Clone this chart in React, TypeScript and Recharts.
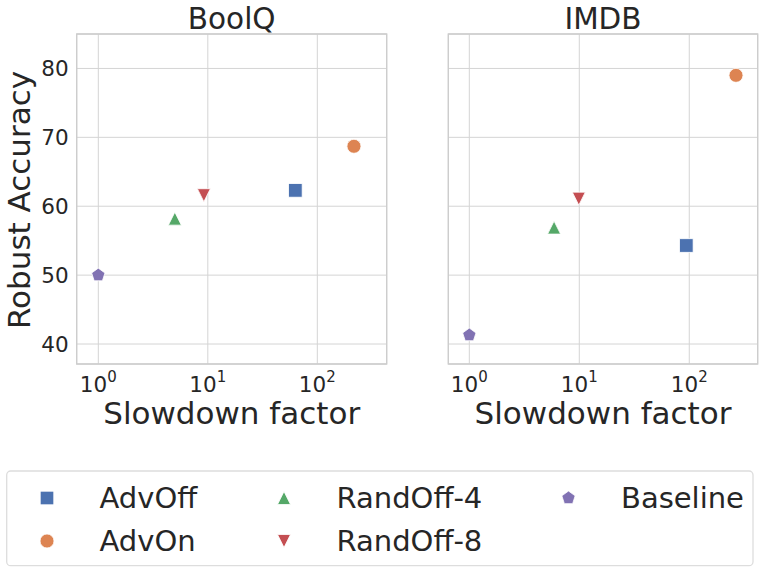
import React from "react";
import {
  ScatterChart,
  Scatter,
  XAxis,
  YAxis,
  CartesianGrid,
  ReferenceArea,
} from "recharts";

// values
const methods = ["AdvOff", "AdvOn", "RandOff-4", "RandOff-8", "Baseline"];
const boolqSlowdown = [63, 216, 5.0, 9.2, 1.0];
const boolqAccuracy = [62.3, 68.7, 58.2, 61.6, 50.0];
const imdbSlowdown = [94, 266, 5.9, 9.9, 1.0];
const imdbAccuracy = [54.3, 79.0, 56.9, 61.1, 41.3];

const xTicks = [1, 10, 100];
const yTicks = [40, 50, 60, 70, 80];

const COLORS: Record<string, string> = {
  AdvOff: "#4c72b0",
  AdvOn: "#dd8452",
  "RandOff-4": "#55a868",
  "RandOff-8": "#c44e52",
  Baseline: "#8172b3",
};
const SHAPES: Record<string, string> = {
  AdvOff: "square",
  AdvOn: "circle",
  "RandOff-4": "up",
  "RandOff-8": "down",
  Baseline: "pentagon",
};

const FONT = "'DejaVu Sans', sans-serif";
const TEXT = "#262626";
const GRID = "#d4d4d4";

const Marker = ({ cx, cy, kind, color }: any) => {
  const stroke = { stroke: "#ffffff", strokeWidth: 0.8 };
  if (kind === "square") {
    return <rect x={cx - 6.8} y={cy - 6.8} width={13.6} height={13.6} fill={color} {...stroke} />;
  }
  if (kind === "circle") {
    return <circle cx={cx} cy={cy} r={7} fill={color} {...stroke} />;
  }
  if (kind === "up" || kind === "down") {
    const r = 6.5;
    const s = kind === "up" ? 1 : -1;
    const pts = `${cx},${cy - s * r} ${cx - r},${cy + s * r} ${cx + r},${cy + s * r}`;
    return <polygon points={pts} fill={color} {...stroke} />;
  }
  const r = 7;
  const pts = [0, 1, 2, 3, 4]
    .map((i) => {
      const a = -Math.PI / 2 + (i * 2 * Math.PI) / 5;
      return `${cx + r * Math.cos(a)},${cy + r * Math.sin(a)}`;
    })
    .join(" ");
  return <polygon points={pts} fill={color} {...stroke} />;
};

const LogTick = ({ x, y, payload }: any) => {
  const exp = Math.round(Math.log10(payload.value));
  return (
    <text x={x} y={y + 20} textAnchor="middle" fontFamily={FONT} fontSize={21.5} fill={TEXT}>
      <tspan>10</tspan>
      <tspan dy={-10} fontSize={15}>
        {exp}
      </tspan>
    </text>
  );
};

const X_DOMAIN_L: [number, number] = [0.635, 430];
const X_DOMAIN_R: [number, number] = [0.644, 419];
const Y_DOMAIN: [number, number] = [37.1, 85];

function Panel({
  xs,
  ys,
  width,
  left,
  margin,
  xDomain,
  showY,
}: {
  xs: number[];
  ys: number[];
  width: number;
  left: number;
  margin: any;
  xDomain: [number, number];
  showY: boolean;
}) {
  return (
    <div style={{ position: "absolute", left, top: 0 }}>
      <ScatterChart width={width} height={440} margin={margin}>
        <CartesianGrid stroke={GRID} strokeWidth={1} />
        <XAxis
          type="number"
          dataKey="x"
          scale="log"
          domain={xDomain}
          allowDataOverflow
          ticks={xTicks}
          tick={<LogTick />}
          axisLine={false}
          tickLine={false}
          height={76}
        />
        <YAxis
          type="number"
          dataKey="y"
          domain={Y_DOMAIN}
          allowDataOverflow
          ticks={yTicks}
          axisLine={false}
          tickLine={false}
          width={76.7}
          hide={!showY}
          tick={{ fontSize: 21.5, fill: TEXT, fontFamily: FONT }}
        />
        <ReferenceArea
          x1={xDomain[0]}
          x2={xDomain[1]}
          y1={Y_DOMAIN[0]}
          y2={Y_DOMAIN[1]}
          fill="none"
          stroke="#cccccc"
          strokeWidth={1.3}
        />
        {methods.map((m, i) => (
          <Scatter
            key={m}
            name={m}
            data={[{ x: xs[i], y: ys[i] }]}
            isAnimationActive={false}
            shape={(p: any) => <Marker cx={p.cx} cy={p.cy} kind={SHAPES[m]} color={COLORS[m]} />}
          />
        ))}
      </ScatterChart>
    </div>
  );
}

const legendCols = [47, 284, 568.5];
const legendRows = [498, 541];

export default function App() {
  return (
    <div
      style={{
        position: "absolute",
        left: 0,
        top: 0,
        width: 762,
        height: 572,
        background: "#ffffff",
        fontFamily: FONT,
      }}
    >
      <Panel
        xs={boolqSlowdown}
        ys={boolqAccuracy}
        width={400}
        left={0}
        margin={{ top: 34, right: 13.3, left: 0, bottom: 0 }}
        xDomain={X_DOMAIN_L}
        showY
      />
      <Panel
        xs={imdbSlowdown}
        ys={imdbAccuracy}
        width={362}
        left={400}
        margin={{ top: 34, right: 4.3, left: 48.3, bottom: 0 }}
        xDomain={X_DOMAIN_R}
        showY={false}
      />
      <svg
        width={762}
        height={572}
        style={{ position: "absolute", left: 0, top: 0, pointerEvents: "none" }}
        fontFamily={FONT}
        fill={TEXT}
      >
        <text x={231.7} y={29} textAnchor="middle" fontSize={29.5}>
          BoolQ
        </text>
        <text x={603} y={29} textAnchor="middle" fontSize={29.5}>
          IMDB
        </text>
        <text x={231.7} y={424} textAnchor="middle" fontSize={31}>
          Slowdown factor
        </text>
        <text x={603} y={424} textAnchor="middle" fontSize={31}>
          Slowdown factor
        </text>
        <text
          transform="translate(29.5,200) rotate(-90)"
          textAnchor="middle"
          fontSize={31}
        >
          Robust Accuracy
        </text>
        <rect
          x={6.7}
          y={471}
          width={746.3}
          height={94.7}
          rx={4}
          fill="#ffffff"
          stroke="#dddddd"
          strokeWidth={1.3}
        />
        {methods.map((m, i) => {
          const col = Math.floor(i / 2);
          const row = i % 2;
          const cx = legendCols[col];
          const cy = legendRows[row];
          return (
            <g key={m}>
              <Marker cx={cx} cy={cy} kind={SHAPES[m]} color={COLORS[m]} />
              <text x={cx + 52.5} y={cy + 9.5} fontSize={29} fill={TEXT}>
                {m}
              </text>
            </g>
          );
        })}
      </svg>
    </div>
  );
}
